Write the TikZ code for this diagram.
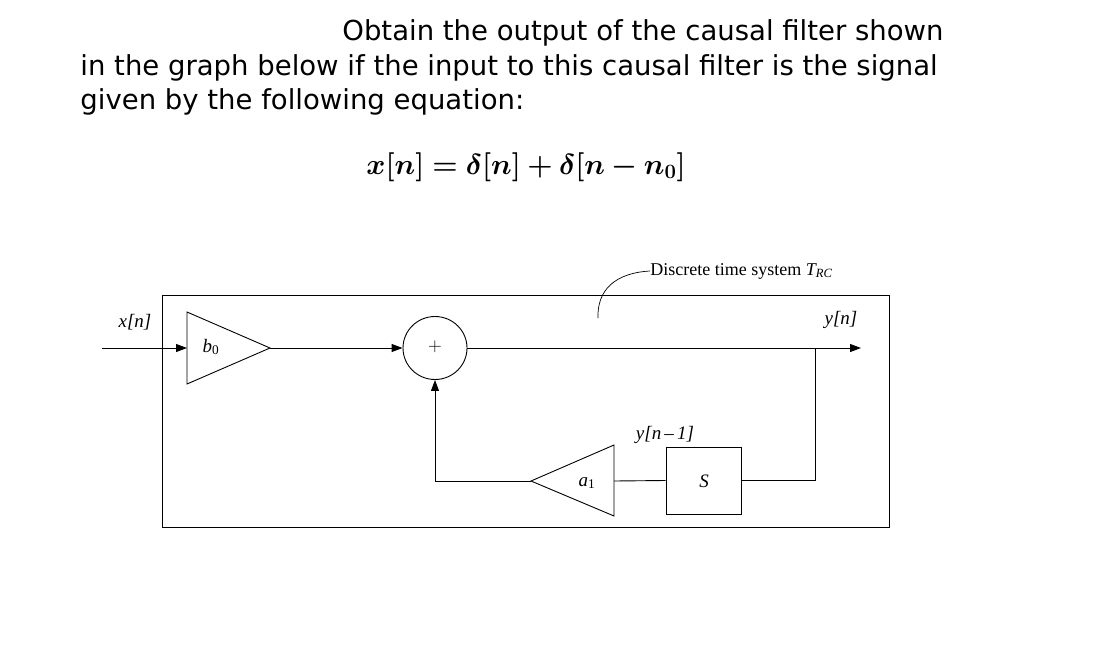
\documentclass[tikz,border=0pt]{standalone}
\usepackage{fix-cm}
\usepackage{amsmath,bm}
\usepackage{fontspec}
\newfontfamily\verd{DejaVu Sans}
\newfontfamily\tms{Liberation Serif}
\usetikzlibrary{arrows.meta,shapes.geometric}
\begin{document}
\begin{tikzpicture}[x=1pt,y=-1pt,line width=0.9pt,
  lbl/.style={font=\tms\fontsize{19}{21}\selectfont\itshape,inner sep=0},
  arr/.style={-{Triangle[length=11pt,width=8pt]}},
  ttl/.style={font=\verd\fontsize{27.5}{32}\selectfont,inner sep=0,anchor=base west}]
\useasboundingbox (0,0) rectangle (1106,648);
\node[ttl,anchor=base east] (t1) at (944,40) {Obtain the output of the causal filter shown};
\node[ttl] (t2) at (80,75) {in the graph below if the input to this causal filter is the signal};
\node[ttl] (t3) at (80,109) {given by the following equation:};
\node[inner sep=0,font=\fontsize{29}{33}\selectfont] (eq) at (526,167) {$\bm{x[n] = \delta[n] + \delta[n-n_0]}$};
\node[draw,minimum width=727,minimum height=232,inner sep=0] (box) at (525.5,411) {};
\coordinate (in) at (102,348);
% b0 triangle
\coordinate (b0w) at (187,348);
\coordinate (b0) at (270,348);
\draw (187,312) -- (b0) -- (187,384) -- cycle;
\node[lbl] (b0t) at (211,347) {b\textsubscript{\upshape 0}};
\node[draw,ellipse,minimum width=64,minimum height=63,inner sep=0] (sum) at (435,348) {};
\node[inner sep=0,font=\fontsize{19}{21}\selectfont] (pl) at (435,347) {+};
\coordinate (out) at (861,348);
\coordinate (br) at (815,348);
\node[draw,minimum width=75,minimum height=67,inner sep=0] (S) at (703.5,480.5) {};
\node[lbl] (St) at (704,481) {S};
% a1 triangle
\coordinate (a1e) at (614,481);
\coordinate (a1) at (531,481);
\draw (614,445) -- (a1) -- (614,516) -- cycle;
\node[lbl] (a1t) at (587,483) {a\textsubscript{\upshape 1}};
\coordinate (fb) at (435,481);
\draw[arr] (in) -- (b0w);
\draw[arr] (b0) -- (sum.west);
\draw[arr] (sum.east) -- (out);
\draw (br) |- (S.east);
\draw (S.west) -- (a1e);
\draw (a1) -- (fb);
\draw[arr] (fb) -- (sum.south);
\node[lbl] (xn) at (135,322) {x[n]};
\node[lbl] (yn) at (841,320) {y[n]};
\node[lbl] (yn1) at (665,435) {y[n\,{\upshape –}\,1]};
\node[inner sep=0,anchor=west,font=\tms\fontsize{18}{20}\selectfont] (dts) at (650,271) {Discrete time system \textit{T\textsubscript{RC}}};
\coordinate (cv) at (598,318);
\draw[line width=0.7pt] (cv) .. controls (597,290) and (615,273) .. (dts.west);
\end{tikzpicture}
\end{document}
